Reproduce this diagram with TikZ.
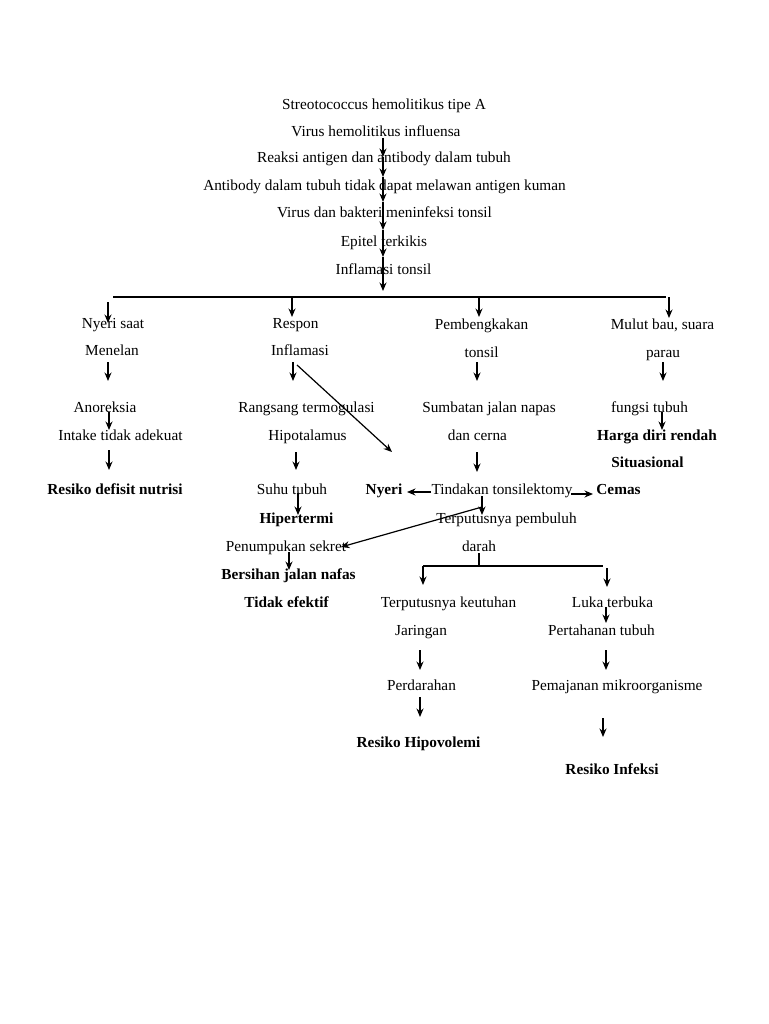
\documentclass[tikz,border=0pt]{standalone}
\usepackage{fontspec}
\setmainfont{Liberation Serif}
\usetikzlibrary{arrows.meta}
\begin{document}
\begin{tikzpicture}[x=1pt,y=-1pt,
  txt/.style={inner sep=0pt,anchor=base,font=\fontsize{15.3}{18}\selectfont},
  btxt/.style={txt,font=\fontsize{15.3}{18}\selectfont\bfseries},
  arr/.style={line width=1.2pt,-{Stealth[length=8.5pt,width=7pt]}},
  ln/.style={line width=1.1pt}]
\useasboundingbox[fill=white] (0,0) rectangle (768,1024);
% top chain
\node[txt] (v0) at (384,110) {Streotococcus hemolitikus tipe A};
\node[txt] (v1) at (376,137) {Virus hemolitikus influensa};
\node[txt] (v2) at (384,163) {Reaksi antigen dan antibody dalam tubuh};
\node[txt] (v3) at (384.5,191) {Antibody dalam tubuh tidak dapat melawan antigen kuman};
\node[txt] (v4) at (384.5,218) {Virus dan bakteri meninfeksi tonsil};
\node[txt] (v5) at (384,246.5) {Epitel terkikis};
\node[txt] (v6) at (383.5,274.5) {Inflamasi tonsil};
% branch level 1
\node[txt] (a1) at (113,328) {Nyeri saat};
\node[txt] (a2) at (112,355) {Menelan};
\node[txt] (b1) at (295.5,328) {Respon};
\node[txt] (b2) at (300,355) {Inflamasi};
\node[txt] (c1) at (481.5,329) {Pembengkakan};
\node[txt] (c2) at (481.5,357) {tonsil};
\node[txt] (d1) at (662.5,329) {Mulut bau, suara};
\node[txt] (d2) at (663,357) {parau};
% level 2
\node[txt] (a3) at (105,412) {Anoreksia};
\node[txt] (a4) at (120.5,440) {Intake tidak adekuat};
\node[txt] (b3) at (306.5,412) {Rangsang termogulasi};
\node[txt] (b4) at (307.5,440) {Hipotalamus};
\node[txt] (c3) at (489,412) {Sumbatan jalan napas};
\node[txt] (c4) at (477.5,440) {dan cerna};
\node[txt] (d3) at (649.5,412) {fungsi tubuh};
\node[btxt] (d4) at (657,440) {Harga diri rendah};
\node[btxt] (d5) at (647.5,467) {Situasional};
% level 3
\node[btxt] (a5) at (115,494) {Resiko defisit nutrisi};
\node[txt] (b5) at (292,494) {Suhu tubuh};
\node[btxt] (b6) at (296.5,523) {Hipertermi};
\node[btxt] (ny) at (384,494) {Nyeri};
\node[txt] (t1) at (502,494) {Tindakan tonsilektomy};
\node[btxt] (cm) at (618.5,494) {Cemas};
\node[txt] (t2) at (506.5,523) {Terputusnya pembuluh};
\node[txt] (t3) at (479,551) {darah};
\node[txt] (p1) at (286,551) {Penumpukan sekret};
\node[btxt] (p2) at (288.5,579) {Bersihan jalan nafas};
\node[btxt] (p3) at (286.5,607) {Tidak efektif};
\node[txt] (k1) at (448.5,607) {Terputusnya keutuhan};
\node[txt] (k2) at (421,635) {Jaringan};
\node[txt] (k3) at (421.5,690) {Perdarahan};
\node[btxt] (k4) at (418.5,747) {Resiko Hipovolemi};
\node[txt] (l1) at (612.5,607) {Luka terbuka};
\node[txt] (l2) at (601.5,635) {Pertahanan tubuh};
\node[txt] (l3) at (617,690) {Pemajanan mikroorganisme};
\node[btxt] (l4) at (612,774) {Resiko Infeksi};
% spine
\foreach \n/\ya/\yb in {s1/138/157,s2/157/177,s3/177/202,s4/202/230,s5/230/257,s6/257/291}{
  \coordinate (\n a) at (383,\ya); \coordinate (\n b) at (383,\yb);
  \draw[arr] (\n a) -- (\n b);}
% horizontal bar
\coordinate (hl) at (113,297); \coordinate (hr) at (666,297);
\draw[ln] (hl) -- (hr);
% short arrows
\foreach \n/\x/\ya/\yb in {
  r1/108/302/323, r2/292/297/317, r3/479/297/317, r4/669/297/318,
  q1/108/362/381, q2/293/362/381, q3/477/362/381, q4/663/362/381,
  w1/109/412/430, w2/662/412/430,
  e1/109/450/470, e2/296/452/470, e3/477/452/472,
  f1/298/493/515, f2/482/496/515,
  g1/289/552/570,
  h1/423/566/585, h2/607/568/587,
  i1/606/607/623,
  j1/420/650/670, j2/606/650/670,
  m1/420/697/717, m2/603/718/737}{
  \coordinate (\n a) at (\x,\ya); \coordinate (\n b) at (\x,\yb);
  \draw[arr] (\n a) -- (\n b);}
% diagonal from Inflamasi to Nyeri
\coordinate (dg1) at (297,365); \coordinate (dg2) at (392,452);
\draw[arr] (dg1) -- (dg2);
% Tindakan to Nyeri and Cemas
\coordinate (tl) at (431,492); \coordinate (tle) at (407,492);
\draw[arr] (tl) -- (tle);
\coordinate (tr) at (571,494); \coordinate (tre) at (593,494);
\draw[arr] (tr) -- (tre);
% Tindakan to Penumpukan sekret
\coordinate (ps1) at (482,507); \coordinate (ps2) at (341,547);
\draw[arr] (ps1) -- (ps2);
% darah split
\coordinate (da1) at (479,553); \coordinate (da2) at (479,566);
\coordinate (dl) at (423,566); \coordinate (dr) at (603,566);
\draw[ln] (da1) -- (da2);
\draw[ln] (dl) -- (dr);
\end{tikzpicture}
\end{document}
